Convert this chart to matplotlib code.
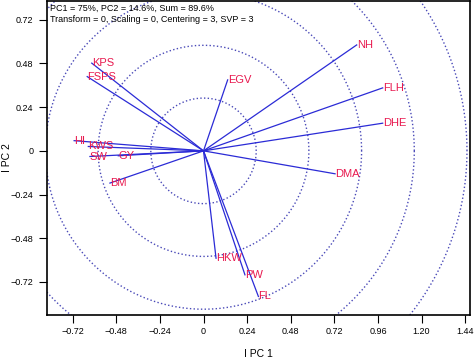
import numpy as np
import matplotlib
matplotlib.use("Agg")
import matplotlib.pyplot as plt

plt.rcParams['font.family'] = ['Liberation Sans', 'DejaVu Sans']

# Trait vectors (PC1, PC2)
traits = ['NH', 'FLH', 'DHE', 'DMA', 'EGV', 'KPS', 'FSPS', 'HI', 'KWS',
          'SW', 'GY', 'BM', 'HKW', 'PW', 'FL']
pc1 = [0.843, 0.986, 0.986, 0.724, 0.133, -0.615, -0.640, -0.712, -0.634,
       -0.625, -0.469, -0.515, 0.069, 0.228, 0.302]
pc2 = [0.582, 0.346, 0.152, -0.126, 0.390, 0.482, 0.408, 0.056, 0.024,
       -0.031, -0.027, -0.177, -0.590, -0.681, -0.800]

# concentric circles
radii = [0.29, 0.58, 0.87, 1.16, 1.45]

xticks = [-0.72, -0.48, -0.24, 0, 0.24, 0.48, 0.72, 0.96, 1.20, 1.44]
xticklabels = ['\u22120.72', '\u22120.48', '\u22120.24', '0', '0.24', '0.48',
               '0.72', '0.96', '1.20', '1.44']
yticks = [-0.72, -0.48, -0.24, 0, 0.24, 0.48, 0.72]
yticklabels = ['\u22120.72', '\u22120.48', '\u22120.24', '0', '0.24', '0.48', '0.72']

header = ['PC1 = 75%, PC2 = 14.6%, Sum = 89.6%',
          'Transform = 0, Scaling = 0, Centering = 3, SVP = 3']

fig = plt.figure(figsize=(4.74, 3.58), dpi=100)
ax = fig.add_axes([0.0985, 0.119, 0.894, 0.877])

th = np.linspace(0, 2 * np.pi, 400)
for r in radii:
    ax.plot(r * np.cos(th), r * np.sin(th), ':', color='#4a4ab8', lw=1.0)

for name, x, y in zip(traits, pc1, pc2):
    ax.plot([0, x], [0, y], color='#2b2bd6', lw=0.9)
for name, x, y in zip(traits, pc1, pc2):
    ax.text(x, y, name, color='#e8194f', fontsize=8, ha='left', va='center')

ax.set_xlim(-0.863, 1.469)
ax.set_ylim(-0.904, 0.821)
ax.set_xticks(xticks)
ax.set_xticklabels(xticklabels)
ax.set_yticks(yticks)
ax.set_yticklabels(yticklabels)
ax.tick_params(labelsize=6.5, length=5.5, width=0.8)
ax.tick_params(axis='x', pad=3)
ax.tick_params(axis='y', pad=4)
for s in ax.spines.values():
    s.set_linewidth(1.2)

ax.set_xlabel('I PC 1', fontsize=7.5, labelpad=9)
fig.text(7 / 474, 1 - 158 / 358, 'I PC 2', fontsize=7.5, rotation=90,
         ha='center', va='center')

fig.text(49.5 / 474, 1 - 8 / 358, header[0], fontsize=6.5, va='center')
fig.text(49.5 / 474, 1 - 20 / 358, header[1], fontsize=6.5, va='center')

fig.savefig('out.png', dpi=100)
